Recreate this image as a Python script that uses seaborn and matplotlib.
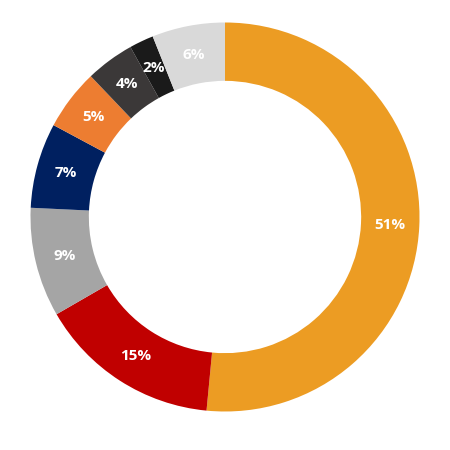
import numpy as np
import matplotlib
matplotlib.use("Agg")
import matplotlib.pyplot as plt
import seaborn as sns

# 數值（順時針，從 12 點鐘方向開始）
values = [51, 15, 9, 7, 5, 4, 2, 6]
pct_labels = ["51%", "15%", "9%", "7%", "5%", "4%", "2%", "6%"]
colors = ["#EC9C23", "#C00000", "#A5A5A5", "#002060",
          "#ED7D31", "#3B3838", "#1A1A1A", "#D9D9D9"]

sns.set_theme(style="white")
plt.rcParams['font.family'] = ['Open Sans', 'DejaVu Sans']

fig = plt.figure(figsize=(4.5, 4.5), dpi=100)
ax = fig.add_axes([0, 0, 1, 1])

wedges, _ = ax.pie(values, colors=colors, startangle=90, counterclock=False,
                   radius=1.0, wedgeprops=dict(width=0.30, edgecolor="none"))

# 百分比標籤放在環的中線
r_mid = 0.85
for w, lab in zip(wedges, pct_labels):
    ang = np.deg2rad((w.theta1 + w.theta2) / 2)
    ax.text(r_mid * np.cos(ang), r_mid * np.sin(ang), lab,
            ha='center', va='center', color='white',
            fontsize=11, fontweight='bold')

scale = 194.5
ax.set_xlim(-225 / scale, 225 / scale)
ax.set_ylim(-233 / scale, 217 / scale)
ax.set_aspect('equal')
ax.axis('off')

fig.savefig("out.png", dpi=100, facecolor="white")
